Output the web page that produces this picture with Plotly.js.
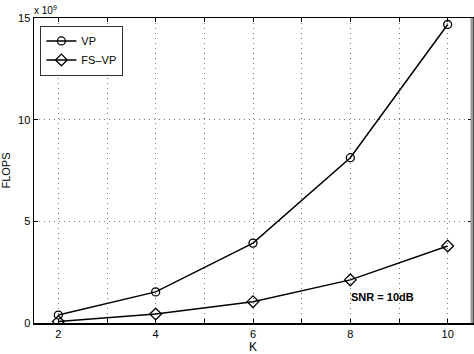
<!DOCTYPE html>
<html>
<head>
<meta charset="utf-8">
<script src="https://cdn.plot.ly/plotly-3.0.1.min.js"></script>
<style>html,body{margin:0;padding:0;background:#fff;}#chart{width:474px;height:354px;}</style>
</head>
<body>
<div id="chart"></div>
<script>
const K = [2, 4, 6, 8, 10];
const vpFlops = [0.39, 1.53, 3.93, 8.13, 14.68];
const fsvpFlops = [0.07, 0.44, 1.05, 2.12, 3.79];
const seriesNames = ["VP", "FS\u2013VP"];
const xTickVals = [2, 4, 6, 8, 10];
const xMinorTickVals = [3, 5, 7, 9];
const yTickVals = [0, 5, 10, 15];
const yTickText = ["0", "5", "10", "15"];

const font = "Liberation Sans, Arial, Helvetica, sans-serif";

const traces = [
  {x: K, y: vpFlops, name: seriesNames[0], mode: "lines+markers",
   line: {color: "#000", width: 1.5},
   marker: {symbol: "circle-open", size: 8, color: "#000", line: {width: 1.3}}},
  {x: K, y: fsvpFlops, name: seriesNames[1], mode: "lines+markers",
   line: {color: "#000", width: 1.5},
   marker: {symbol: "diamond-open", size: 9, color: "#000", line: {width: 1.3}}}
];

const layout = {
  width: 474, height: 354,
  margin: {l: 34, r: 2, t: 18, b: 31, pad: 0},
  paper_bgcolor: "#fff", plot_bgcolor: "#fff",
  font: {family: font, size: 11, color: "#000"},
  showlegend: true,
  legend: {x: 0.015, y: 0.975, xanchor: "left", yanchor: "top",
           bgcolor: "#fff", bordercolor: "#000", borderwidth: 0.8,
           font: {family: font, size: 11}, tracegroupgap: 0},
  xaxis: {range: [1.5, 10.5], tickvals: xTickVals, ticktext: xTickVals.map(String),
          ticks: "inside", ticklen: 4, tickcolor: "#000", showline: true, linecolor: "#000", linewidth: 1.5,
          mirror: "ticks", showgrid: true, gridcolor: "#777", griddash: "1px,4px", gridwidth: 1,
          minor: {tickvals: xMinorTickVals, ticks: "inside", ticklen: 4, tickcolor: "#000",
                  showgrid: true, gridcolor: "#777", griddash: "1px,4px", gridwidth: 1},
          zeroline: false, title: {text: "K", font: {size: 12}, standoff: 4},
          tickfont: {size: 11}},
  yaxis: {range: [0, 15], tickvals: yTickVals, ticktext: yTickText,
          ticks: "inside", ticklen: 4, tickcolor: "#000", showline: true, linecolor: "#000", linewidth: 1.5,
          mirror: "ticks", showgrid: true, gridcolor: "#777", griddash: "1px,4px", gridwidth: 1,
          zeroline: false, title: {text: "FLOPS", font: {size: 11}, standoff: 8},
          tickfont: {size: 11}},
  annotations: [
    {x: 8.67, y: 1.28, xref: "x", yref: "y", text: "<b>SNR = 10dB</b>", showarrow: false,
     font: {family: font, size: 11}},
    {x: 0, y: 1, xref: "paper", yref: "paper", xanchor: "left", yanchor: "bottom",
     text: "x 10<sup>9</sup>", showarrow: false, font: {family: font, size: 10}, xshift: -2, yshift: 0}
  ],
  shapes: [
    {type: "line", xref: "paper", yref: "paper", x0: 1.0, x1: 1.0, y0: 0, y1: 1,
     line: {color: "#999", width: 3}}
  ]
};

Plotly.newPlot("chart", traces, layout, {displayModeBar: false, staticPlot: true});
</script>
</body>
</html>
